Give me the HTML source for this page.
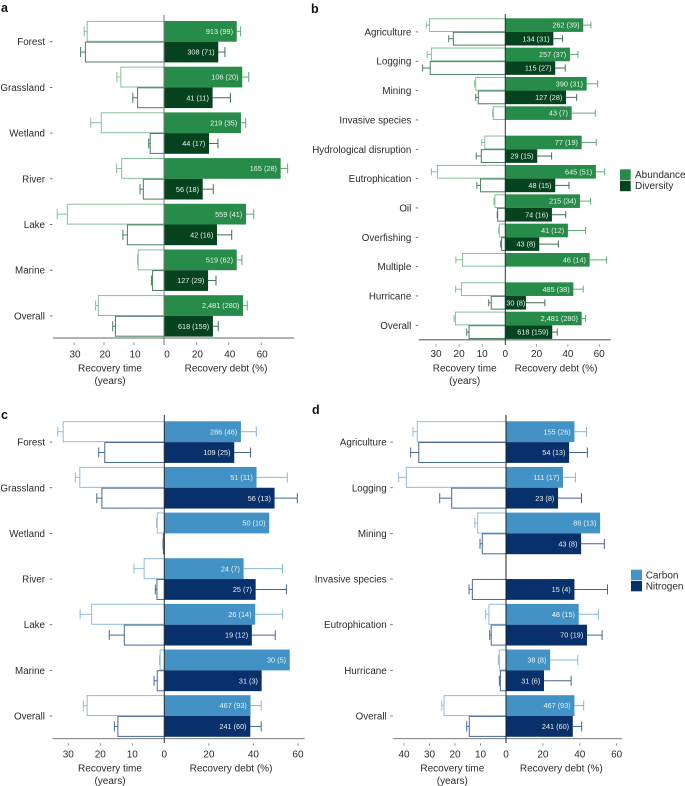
<!DOCTYPE html>
<html lang="en">
<head>
<meta charset="utf-8">
<title>Recovery time and recovery debt</title>
<style>
html,body{margin:0;padding:0;background:#fff;}
body{width:685px;height:786px;overflow:hidden;}
svg{display:block;font-family:"Liberation Sans",Arial,sans-serif;}
text{fill:#2b2b2b;}
</style>
</head>
<body>
<svg id="figure" width="685" height="786" viewBox="0 0 685 786" xmlns="http://www.w3.org/2000/svg">
  <text x="1" y="12" font-size="12.5" font-weight="700" style="fill:#111">a</text>
  <text x="311" y="13" font-size="12.5" font-weight="700" style="fill:#111">b</text>
  <text x="1" y="419" font-size="12.5" font-weight="700" style="fill:#111">c</text>
  <text x="312" y="414" font-size="12.5" font-weight="700" style="fill:#111">d</text>

  <g>
    <rect x="620" y="169.3" width="10.7" height="10.7" fill="#278b49"/>
    <rect x="620" y="180.7" width="10.7" height="10.5" fill="#04431d"/>
    <text x="635" y="178" font-size="10">Abundance</text>
    <text x="635" y="189" font-size="10">Diversity</text>
  </g>
  <g>
    <rect x="631" y="569.7" width="11" height="10.6" fill="#4292c6"/>
    <rect x="631" y="581" width="11" height="10.3" fill="#08306b"/>
    <text x="645.7" y="578.5" font-size="10">Carbon</text>
    <text x="645.7" y="589.5" font-size="10">Nitrogen</text>
  </g>
</svg>

<script>
/* ---------- Panel a data ---------- */
const aCategories = ["Forest","Grassland","Wetland","River","Lake","Marine","Overall"];
const aTimeAbundance    = [25.6,14.4,20.9,14.1,32.2,8.6,21.9];
const aTimeAbundanceErr = [26.6,15.7,24.4,15.8,35.6,8.8,22.8];
const aTimeDiversity    = [26.2,8.8,4.6,6.9,12.2,3.8,16.2];
const aTimeDiversityErr = [27.8,10.4,5.1,8.0,13.7,4.2,17.1];
const aDebtAbundance    = [44.9,48.3,47.5,72.0,50.6,44.9,48.8];
const aDebtAbundanceErr = [47.3,52.3,50.4,76.3,55.4,48.1,51.4];
const aDebtDiversity    = [33.5,30.0,27.8,23.9,32.7,27.2,30.2];
const aDebtDiversityErr = [37.6,41.0,33.3,30.4,41.8,32.1,33.5];
const aLabelsAbundance  = ["913 (99)","106 (20)","219 (35)","165 (28)","559 (41)","519 (62)","2,481 (280)"];
const aLabelsDiversity  = ["308 (71)","41 (11)","44 (17)","56 (18)","42 (16)","127 (29)","618 (159)"];

/* ---------- Panel b data ---------- */
const bCategories = ["Agriculture","Logging","Mining","Invasive species","Hydrological disruption","Eutrophication","Oil","Overfishing","Multiple","Hurricane","Overall"];
const bTimeAbundance    = [32.8,32.0,12.8,5.2,8.9,29.4,4.5,2.6,18.5,19.0,21.6];
const bTimeAbundanceErr = [34.2,33.8,13.3,5.5,10.2,32.0,4.9,2.9,21.4,21.5,22.2];
const bTimeDiversity    = [22.5,32.5,11.7,null,10.4,10.7,3.3,1.6,null,6.1,15.7];
const bTimeDiversityErr = [24.5,35.8,12.8,null,12.6,12.3,3.5,2.0,null,7.2,16.7];
const bDebtAbundance    = [49.8,41.3,52.0,42.4,48.8,57.9,47.7,40.0,53.9,43.5,48.8];
const bDebtAbundanceErr = [54.7,46.4,59.0,57.5,58.1,63.5,54.5,51.3,64.7,49.8,51.3];
const bDebtDiversity    = [30.7,31.9,38.8,null,20.4,31.9,29.8,21.7,null,13.2,30.0];
const bDebtDiversityErr = [36.6,38.3,45.6,null,29.6,40.7,38.6,33.9,null,25.3,33.2];
const bLabelsAbundance  = ["262 (39)","257 (37)","390 (31)","43 (7)","77 (19)","645 (51)","215 (34)","41 (12)","46 (14)","485 (38)","2,481 (280)"];
const bLabelsDiversity  = ["134 (31)","115 (27)","127 (28)",null,"29 (15)","48 (15)","74 (16)","43 (8)",null,"30 (8)","618 (159)"];

/* ---------- Panel c data ---------- */
const cCategories = ["Forest","Grassland","Wetland","River","Lake","Marine","Overall"];
const cTimeCarbon      = [31.6,26.4,2.2,6.3,22.7,1.3,24.1];
const cTimeCarbonErr   = [33.3,27.8,2.4,9.5,26.3,1.5,25.3];
const cTimeNitrogen    = [18.6,19.5,0.3,2.3,12.5,2.2,14.5];
const cTimeNitrogenErr = [20.5,21.1,0.4,2.8,17.2,3.2,15.6];
const cDebtCarbon      = [34.4,41.4,47.1,35.6,40.8,56.3,38.7];
const cDebtCarbonErr   = [41.3,55.2,47.1,53.0,53.1,56.3,43.5];
const cDebtNitrogen    = [31.4,49.5,null,41.0,39.3,43.7,38.6];
const cDebtNitrogenErr = [38.7,59.7,null,54.8,49.8,43.7,43.5];
const cLabelsCarbon    = ["286 (46)","51 (11)","50 (10)","24 (7)","26 (14)","30 (5)","467 (93)"];
const cLabelsNitrogen  = ["109 (25)","56 (13)",null,"25 (7)","19 (12)","31 (3)","241 (60)"];

/* ---------- Panel d data ---------- */
const dCategories = ["Agriculture","Logging","Mining","Invasive species","Eutrophication","Hurricane","Overall"];
const dTimeCarbon      = [34.8,39.1,11.1,null,6.7,2.6,24.3];
const dTimeCarbonErr   = [36.5,42.1,12.2,null,8.0,3.0,25.2];
const dTimeNitrogen    = [34.2,21.3,9.3,13.2,5.8,2.2,14.4];
const dTimeNitrogenErr = [37.4,26.0,10.2,14.5,6.4,2.6,15.4];
const dDebtCarbon      = [37.1,30.9,51.0,null,39.4,23.9,37.1];
const dDebtCarbonErr   = [43.6,37.6,51.0,null,50.1,38.9,42.1];
const dDebtNitrogen    = [34.2,28.2,40.7,37.1,43.9,20.6,36.2];
const dDebtNitrogenErr = [44.1,40.9,53.3,55.0,52.1,35.3,41.0];
const dLabelsCarbon    = ["155 (26)","111 (17)","86 (13)",null,"48 (15)","38 (8)","467 (93)"];
const dLabelsNitrogen  = ["54 (13)","23 (8)","43 (8)","15 (4)","70 (19)","31 (6)","241 (60)"];

/* ---------- Tick labels ---------- */
const timeTicksShort = [30,20,10];
const timeTicksLong  = [40,30,20,10];
const debtTicks      = [0,20,40,60];

/* ---------- Panel layout ---------- */
const GREEN = {fill1:"#278b49",fill2:"#04431d",out1:"#85c09b",out2:"#487f5f",wR1:"#63a97d",wR2:"#3f6f52",wL1:"#85c09b",wL2:"#487f5f"};
const BLUE  = {fill1:"#4292c6",fill2:"#08306b",out1:"#8fbcdd",out2:"#48699a",wR1:"#86b6da",wR2:"#46648f",wL1:"#8fbcdd",wL2:"#48699a"};

const panels = [
  {id:"a", cx:164, tS:3.0, dS:1.62, top:21, pitch:45.7, barH:20.7, axisY:338, x0:53, x1:294, catX:45,
   lineTop:15, lineBot:345, lineColor:"#777", axisColor:"#666", axisW:0.9, tickLabY:357.5, titleY:371.5, yearsY:384,
   timeCx:110, debtCx:226, capH:10, palette:GREEN, timeTicks:timeTicksShort, zeroShift:3, leftShift:1,
   cats:aCategories, t1:aTimeAbundance, t1e:aTimeAbundanceErr, t2:aTimeDiversity, t2e:aTimeDiversityErr,
   d1:aDebtAbundance, d1e:aDebtAbundanceErr, d2:aDebtDiversity, d2e:aDebtDiversityErr, l1:aLabelsAbundance, l2:aLabelsDiversity},
  {id:"b", cx:505.3, tS:2.31, dS:1.565, top:18.3, pitch:29.34, barH:13.6, axisY:339.7, x0:418.7, x1:610.7, catX:411.3,
   lineTop:14, lineBot:345, lineColor:"#333", axisColor:"#888", axisW:1.5, tickLabY:357, titleY:371.5, yearsY:384,
   timeCx:464.7, debtCx:556, capH:7, palette:GREEN, timeTicks:timeTicksShort, zeroShift:0, leftShift:0,
   cats:bCategories, t1:bTimeAbundance, t1e:bTimeAbundanceErr, t2:bTimeDiversity, t2e:bTimeDiversityErr,
   d1:bDebtAbundance, d1e:bDebtAbundanceErr, d2:bDebtDiversity, d2e:bDebtDiversityErr, l1:bLabelsAbundance, l2:bLabelsDiversity},
  {id:"c", cx:164.3, tS:3.2, dS:2.228, top:421.3, pitch:45.65, barH:20.8, axisY:738.7, x0:52.7, x1:304.7, catX:45,
   lineTop:415, lineBot:743, lineColor:"#333", axisColor:"#666", axisW:0.9, tickLabY:757.5, titleY:771.5, yearsY:784,
   timeCx:110, debtCx:231, capH:10, palette:BLUE, timeTicks:timeTicksShort, zeroShift:0, leftShift:0,
   cats:cCategories, t1:cTimeCarbon, t1e:cTimeCarbonErr, t2:cTimeNitrogen, t2e:cTimeNitrogenErr,
   d1:cDebtCarbon, d1e:cDebtCarbonErr, d2:cDebtNitrogen, d2e:cDebtNitrogenErr, l1:cLabelsCarbon, l2:cLabelsNitrogen},
  {id:"d", cx:506, tS:2.55, dS:1.845, top:421.3, pitch:45.65, barH:20.8, axisY:738.7, x0:393.3, x1:622, catX:386.7,
   lineTop:415, lineBot:743, lineColor:"#222", axisColor:"#666", axisW:0.9, tickLabY:757.5, titleY:771.5, yearsY:784,
   timeCx:452.3, debtCx:561.3, capH:10, palette:BLUE, timeTicks:timeTicksLong, zeroShift:0, leftShift:0,
   cats:dCategories, t1:dTimeCarbon, t1e:dTimeCarbonErr, t2:dTimeNitrogen, t2e:dTimeNitrogenErr,
   d1:dDebtCarbon, d1e:dDebtCarbonErr, d2:dDebtNitrogen, d2e:dDebtNitrogenErr, l1:dLabelsCarbon, l2:dLabelsNitrogen}
];

const NS = "http://www.w3.org/2000/svg";
const figure = document.getElementById("figure");

function make(parent, tag, props, content) {
  const node = document.createElementNS(NS, tag);
  for (const key in props) node.setAttribute(key, props[key]);
  if (content !== undefined) node.textContent = content;
  parent.appendChild(node);
  return node;
}

function drawPanel(p) {
  const timeX = v => p.cx - v * p.tS;
  const debtX = v => p.cx + v * p.dS;
  const rowY  = i => p.top + i * p.pitch;

  const g = make(figure, "g", {});
  
  

  function whisker(x1, x2, y, color, name) {
    const w = make(g, "g", {stroke: color, "stroke-width": 1, fill: "none"});
    
    
    make(w, "line", {x1: x1, x2: x2, y1: y, y2: y});
    make(w, "line", {x1: x2, x2: x2, y1: y - p.capH / 2, y2: y + p.capH / 2});
  }

  function series(values, ends, debtValues, debtEnds, labels, slot, outColor, fill, wL, wR, key) {
    values.forEach((v, i) => {
      const y = rowY(i) + slot * p.barH;
      const mid = y + p.barH / 2;
      const cat = p.cats[i].toLowerCase().replace(/\s+/g, "-");
      if (v !== null) {
        whisker(timeX(v), timeX(ends[i]), mid, wL, "time-error-" + key + "-" + cat);
        const r = make(g, "rect", {x: timeX(v), y: y + 0.4, width: Math.max(v * p.tS, 0.5), height: p.barH - 0.8,
          fill: "#fff", stroke: outColor, "stroke-width": 1});
        
        
      }
      const d = debtValues[i];
      if (d !== null) {
        if (debtEnds[i] > d) whisker(debtX(d), debtX(debtEnds[i]), mid, wR, "debt-error-" + key + "-" + cat);
        const r2 = make(g, "rect", {x: p.cx, y: y, width: d * p.dS, height: p.barH, fill: fill});
        
        
        if (labels[i]) {
          const t = make(g, "text", {x: debtX(d) - 3.7, y: mid + 2.6, "font-size": 7.3, "text-anchor": "end",
            style: "fill:#e9f2ee"}, labels[i]);
          
          
          const len = t.getComputedTextLength();
          if (debtX(d) - 3.7 - len < p.cx + 1) t.setAttribute("x", p.cx + 1 + len);
        }
      }
    });
  }

  series(p.t1, p.t1e, p.d1, p.d1e, p.l1, 0, p.palette.out1, p.palette.fill1, p.palette.wL1, p.palette.wR1, "series1");
  series(p.t2, p.t2e, p.d2, p.d2e, p.l2, 1, p.palette.out2, p.palette.fill2, p.palette.wL2, p.palette.wR2, "series2");

  /* category labels */
  p.cats.forEach((c, i) => {
    const y = rowY(i) + p.barH;
    const t = make(g, "text", {x: p.catX, y: y + 3.5, "font-size": 9.8, "text-anchor": "end"}, c);
    
    
    const m = make(g, "line", {x1: p.x0 - 3, x2: p.x0 - 0.5, y1: y, y2: y, stroke: "#555", "stroke-width": 0.8});
    
    
  });

  /* x axis */
  const axis = make(g, "line", {x1: p.x0, x2: p.x1, y1: p.axisY, y2: p.axisY, stroke: p.axisColor, "stroke-width": p.axisW});
  
  

  const centre = make(g, "line", {x1: p.cx, x2: p.cx, y1: p.lineTop, y2: p.lineBot, stroke: p.lineColor, "stroke-width": 1});
  
  

  p.timeTicks.forEach(v => {
    const tk = make(g, "line", {x1: timeX(v), x2: timeX(v), y1: p.axisY + 4.5, y2: p.axisY + 7, stroke: "#777", "stroke-width": 0.8});
    
    
    const lb = make(g, "text", {x: timeX(v) + p.leftShift, y: p.tickLabY, "font-size": 10, "text-anchor": "middle"}, v);
    
    
  });
  debtTicks.forEach(v => {
    if (v > 0) {
      const tk = make(g, "line", {x1: debtX(v), x2: debtX(v), y1: p.axisY + 4.5, y2: p.axisY + 7, stroke: "#777", "stroke-width": 0.8});
      
      
    }
    const lb = make(g, "text", {x: debtX(v) + (v === 0 ? p.zeroShift : p.leftShift), y: p.tickLabY, "font-size": 10, "text-anchor": "middle"}, v);
    
    
  });

  /* axis titles */
  const t1 = make(g, "text", {x: p.timeCx, y: p.titleY, "font-size": 10, "text-anchor": "middle"}, "Recovery time");
  
  
  const t2 = make(g, "text", {x: p.timeCx, y: p.yearsY, "font-size": 10, "text-anchor": "middle"}, "(years)");
  
  
  const t3 = make(g, "text", {x: p.debtCx, y: p.titleY, "font-size": 10, "text-anchor": "middle"}, "Recovery debt (%)");
  
  
}

panels.forEach(drawPanel);
</script>
</body>
</html>
